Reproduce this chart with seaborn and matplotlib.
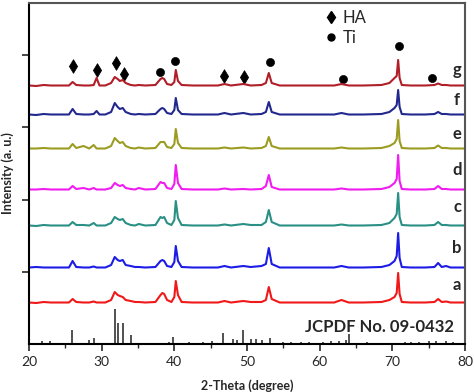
import numpy as np
import pandas as pd
import matplotlib
matplotlib.use('Agg')
import matplotlib.pyplot as plt
from matplotlib.lines import Line2D
import seaborn as sns

# ---- data (heights, arbitrary units) ----
theta = [20.0, 21.0, 22.0, 23.0, 24.0,
         25.5, 26.0, 26.5, 27.5, 28.3,
         28.9, 29.3, 29.7, 30.5, 31.3,
         31.8, 32.2, 32.5, 32.9, 33.3,
         34.0, 34.6, 35.1, 36.0, 37.4,
         38.1, 38.35, 38.6, 39.0, 39.6,
         40.0, 40.2, 40.5, 41.0, 42.5,
         44.0, 46.0, 46.9, 47.8, 49.5,
         50.5, 52.0, 52.6, 53.0, 53.4,
         54.5, 57.0, 60.0, 62.0, 63.0,
         64.0, 66.0, 68.5, 69.6, 70.3,
         70.6, 70.8, 71.0, 71.3, 72.5,
         74.5, 75.8, 76.3, 76.8, 77.4,
         78.0, 80.0]

int_a = [0.5, 0, 1, 0.5, 0.5,
         0.5, 4, 1, 0.5, 0.5,
         1.5, 0.5, 0.5, 0.5, 3,
         11, 8, 7, 6, 3,
         2, 1, 1, 0.5, 1,
         8, 10, 9, 3, 1,
         6, 22, 8, 1, 0.5,
         0.5, 0.5, 2, 0.5, 2,
         1, 1, 3, 16, 4,
         0.5, 0.5, 0.5, 0.5, 3,
         0.5, 0.5, 1, 3, 6,
         10, 30, 9, 1, 0.5,
         0.5, 1, 4, 1, 1.5,
         0.5, 0.5]
int_b = [0.5, 1, 0.5, 0.5, 0.5,
         0.5, 7, 1, 0.5, 0.5,
         1.5, 0.5, 0.5, 0.5, 3,
         11, 8, 7, 8, 3,
         2, 1, 1, 0.5, 1,
         7, 8, 7, 2, 1,
         6, 22, 7, 1, 0.5,
         0.5, 0.5, 2, 0.5, 2,
         1, 2, 4, 20, 4,
         0.5, 0.5, 0.5, 0.5, 2,
         0.5, 0.5, 1, 3, 7,
         12, 35, 10, 1, 0.5,
         0.5, 1, 5, 1, 2,
         0.5, 0.5]
int_c = [0.5, 0, 1, 0.5, 0.5,
         0.5, 4, 1, 1, 0.5,
         3, 0.5, 0.5, 0.5, 3,
         9, 7, 6, 7, 3,
         1, 0.5, 2, 0.5, 1,
         9, 8, 9, 3, 1,
         6, 25, 8, 1, 0.5,
         0.5, 0.5, 1.5, 0.5, 2,
         1, 1, 4, 16, 4,
         0.5, 0.5, 0.5, 0.5, 1.5,
         0.5, 0.5, 1, 3, 8,
         12, 33, 9, 1, 0.5,
         0.5, 1, 4, 1, 1,
         0.5, 0.5]
int_d = [0.5, 0.5, 1, 0.5, 0.5,
         0.5, 4, 1, 2, 0.5,
         2, 0.5, 0.5, 0.5, 2,
         7, 5, 4, 5, 2,
         1, 0.5, 2, 0.5, 1,
         8, 7, 7, 2, 1,
         6, 25, 7, 1, 0.5,
         0.5, 0.5, 1.5, 0.5, 1,
         0.5, 1, 4, 15, 3,
         0.5, 0.5, 0.5, 0.5, 1.5,
         0.5, 0.5, 1, 3, 7,
         11, 35, 9, 1, 0.5,
         0.5, 1, 4, 1, 1,
         0.5, 0.5]
int_e = [0.5, 0.5, 1, 0.5, 0.5,
         0.5, 5, 1, 3, 0.5,
         4, 0.5, 0.5, 0.5, 3,
         11, 8, 6, 7, 3,
         1, 0.5, 1.5, 0.5, 1,
         7, 7, 7, 2, 1,
         5, 20, 6, 1, 0.5,
         0.5, 0.5, 1.5, 0.5, 1.5,
         0.5, 1, 3, 12, 3,
         0.5, 0.5, 0.5, 0.5, 1.5,
         0.5, 0.5, 1, 3, 6,
         10, 29, 8, 1, 0.5,
         0.5, 1, 3.5, 1, 1,
         0.5, 0.5]
int_f = [0.5, 0, 1, 0.5, 0.5,
         0.5, 6, 1, 0.5, 0.5,
         1, 4, 0.5, 0.5, 3,
         12, 8, 6, 7, 3,
         1, 0.5, 1, 0.5, 1,
         6, 7, 6, 2, 1,
         5, 17, 5, 1, 0.5,
         0.5, 0.5, 2, 0.5, 2,
         0.5, 1, 3, 13, 3,
         0.5, 0.5, 0.5, 0.5, 2,
         0.5, 0.5, 1, 3, 7,
         10, 25, 8, 1, 0.5,
         0.5, 1, 3, 1, 1,
         0.5, 0.5]
int_g = [0.5, 0, 1, 0.5, 0.5,
         0.5, 4, 1, 0.5, 0.5,
         1, 8, 0.5, 0.5, 3,
         9, 7, 5, 6, 3,
         1, 0.5, 1, 0.5, 1,
         7, 8, 7, 2, 1,
         4, 16, 5, 1, 0.5,
         0.5, 0.5, 2, 0.5, 2,
         0.5, 1, 3, 13, 3,
         0.5, 0.5, 0.5, 0.5, 2,
         0.5, 0.5, 1, 3, 8,
         10, 26, 8, 1, 0.5,
         0.5, 1, 2.5, 1, 1,
         0.5, 0.5]

samples = ['a', 'b', 'c', 'd', 'e', 'f', 'g']
curves = [int_a, int_b, int_c, int_d, int_e, int_f, int_g]

# JCPDF 09-0432 (HA) reference lines
jcpdf_pos = [21.8, 22.9, 25.9, 28.2, 29.0, 31.8, 32.2, 32.9, 34.1, 35.5,
             39.2, 39.8, 42.0, 43.9, 45.2, 46.7, 48.1, 48.6, 49.5, 50.5,
             51.3, 52.1, 53.1, 54.9, 56.0, 57.4, 58.5, 60.4, 61.5, 62.6,
             63.6, 64.1, 66.5, 71.8, 72.5, 73.7, 75.0, 76.0, 77.4, 78.3]
jcpdf_int = [3, 3, 14, 4, 6, 35, 21, 21, 9, 1.5,
             2, 7, 2, 2, 3, 11, 5, 4, 14, 5,
             5, 4, 6, 2, 2, 2, 2, 2, 3, 3,
             4, 10, 2, 2, 2, 2, 3, 3, 3, 2]

# phase markers above curve g
ha_theta = [26.0, 29.3, 32.0, 33.1, 46.9, 49.6]
ha_y = [278, 274, 281, 270, 268, 267]
ti_theta = [38.0, 40.1, 53.1, 63.2, 70.9, 75.5]
ti_y = [272, 283, 282, 265, 298, 266]

# ---- style ----
OFFSETS = {'a': 41, 'b': 76, 'c': 118, 'd': 154, 'e': 195, 'f': 229, 'g': 258}
COLORS = {'a': '#f01818', 'b': '#1c1ce6', 'c': '#2a8f84', 'd': '#f01cf0',
          'e': '#9c9c22', 'f': '#22288e', 'g': '#b01e28'}
LABEL_Y = {'a': 59, 'b': 96, 'c': 137, 'd': 174, 'e': 210, 'f': 244, 'g': 274}

sns.set_style('ticks')
plt.rcParams['font.family'] = ['Lato', 'DejaVu Sans']

fig = plt.figure(figsize=(4.74, 3.92), dpi=100)
ax = fig.add_axes([29 / 474, 48 / 392, 436 / 474, 341 / 392])

for s, y in zip(samples, curves):
    df = pd.DataFrame({'theta': theta, 'I': np.array(y) + OFFSETS[s]})
    sns.lineplot(data=df, x='theta', y='I', color=COLORS[s], lw=1.5, ax=ax, sort=False)
    ax.text(78.9, LABEL_Y[s], s, ha='center', va='center', fontsize=12, fontweight='bold')

ax.vlines(jcpdf_pos, 0, jcpdf_int, color='#222222', lw=1.1)
ax.text(78.5, 17, 'JCPDF No. 09-0432', ha='right', va='center', fontsize=12, fontweight='bold')

sns.scatterplot(x=ha_theta, y=ha_y, marker='d', s=48, color='black', edgecolor='black', ax=ax)
sns.scatterplot(x=ti_theta, y=ti_y, marker='o', s=34, color='black', edgecolor='black', ax=ax)

handles = [Line2D([], [], ls='', marker='d', color='black', markersize=6),
           Line2D([], [], ls='', marker='o', color='black', markersize=5)]
ax.legend(handles, ['HA', 'Ti'], loc='upper left', bbox_to_anchor=(0.65, 1.01),
          frameon=False, fontsize=12, handletextpad=0.2, handlelength=1.0,
          labelspacing=0.25, borderaxespad=0.2)

ax.set_xlim(20, 80)
ax.set_ylim(0, 341)
ax.set_xticks(range(20, 81, 10))
ax.set_xticks(range(25, 80, 10), minor=True)
ax.set_yticks([72, 144, 217, 289])
ax.set_yticklabels([])
ax.tick_params(axis='both', which='major', direction='out', length=5, width=1.2, labelsize=10)
ax.tick_params(axis='x', which='minor', direction='out', length=3, width=1.0)
ax.set_xlabel('2-Theta (degree)', fontsize=9, fontweight='bold', labelpad=8)
ax.set_ylabel('Intensity (a. u.)', fontsize=9, fontweight='bold')
ax.yaxis.set_label_coords(-0.034, 0.5)

for side in ['left', 'bottom']:
    ax.spines[side].set_linewidth(1.5)
    ax.spines[side].set_color('black')
for side in ['top', 'right']:
    ax.spines[side].set_linewidth(1.5)
    ax.spines[side].set_color('#555555')

fig.savefig('out.png', dpi=100)
